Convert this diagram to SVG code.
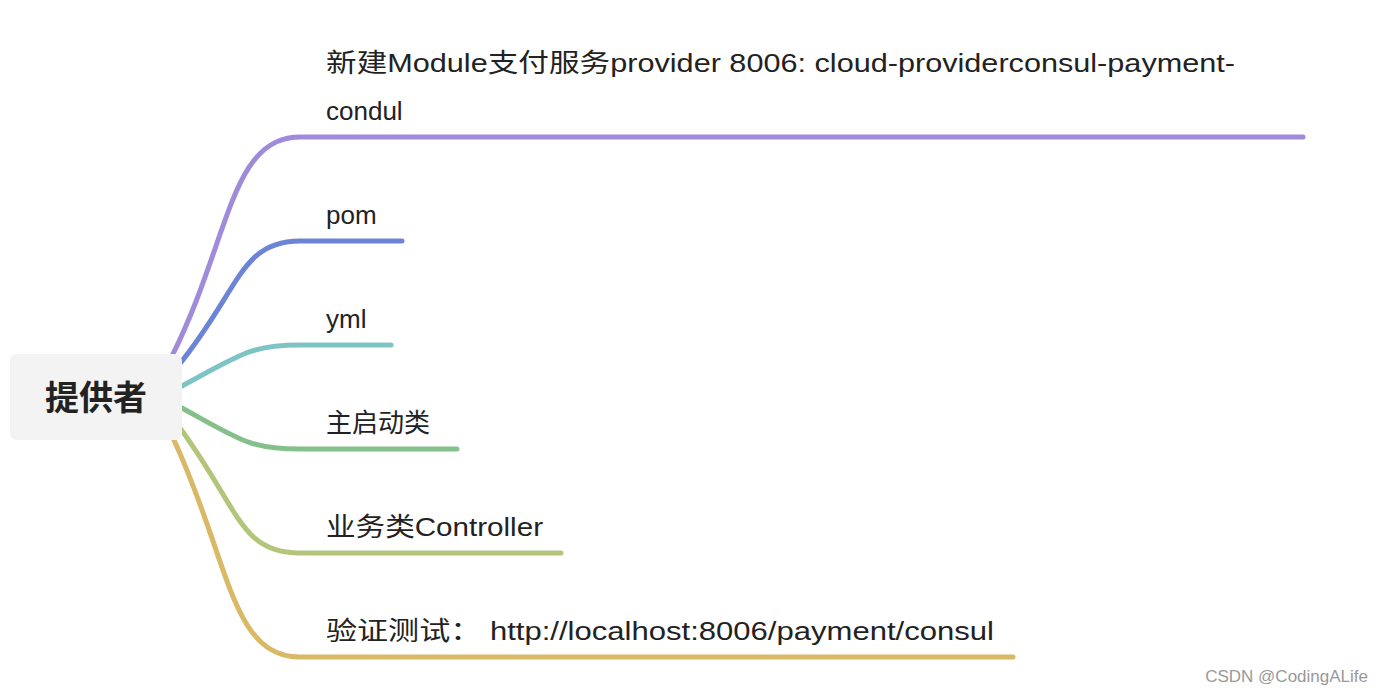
<svg xmlns="http://www.w3.org/2000/svg" width="1384" height="696" viewBox="0 0 1384 696">
<style>
.t{font-family:"Liberation Sans","Noto Sans CJK SC",sans-serif;font-size:26px;fill:#222}
.c{fill:none;stroke-width:5;stroke-linecap:round}
</style>
<rect width="1384" height="696" fill="#fff"/>
<g id="connectors">
<path class="c" stroke="#a08bdb" d="M172,356 C230,240 230,137 300,137 L1303,137"/>
<path class="c" stroke="#6c84d6" d="M178,366 C240,290 240,241 300,241 L402,241"/>
<path class="c" stroke="#7fc4c4" d="M182,386 C240,355 250,345 300,345 L391,345"/>
<path class="c" stroke="#85c08a" d="M182,408 C240,440 250,449 300,449 L457,449"/>
<path class="c" stroke="#b3c57a" d="M180,428 C240,510 240,553 300,553 L561,553"/>
<path class="c" stroke="#d9b866" d="M173,438 C230,560 230,657 300,657 L1013,657"/>
</g>
<g id="root">
<rect x="10" y="354" width="172" height="86" rx="7" fill="#f3f3f3"/>
<text x="96" y="410" text-anchor="middle" style="font-family:'Noto Sans CJK SC',sans-serif;font-size:34px;font-weight:bold;fill:#222">提供者</text>
</g>
<g id="n1"><text class="t" x="326" y="72" textLength="909" lengthAdjust="spacingAndGlyphs">新建Module支付服务provider 8006: cloud-providerconsul-payment-</text><text class="t" x="326" y="120">condul</text></g>
<g id="n2"><text class="t" x="326" y="224">pom</text></g>
<g id="n3"><text class="t" x="326" y="328">yml</text></g>
<g id="n4"><text class="t" x="326" y="432">主启动类</text></g>
<g id="n5"><text class="t" x="326" y="536" textLength="217" lengthAdjust="spacingAndGlyphs">业务类Controller</text></g>
<g id="n6"><text class="t" x="326" y="640" textLength="668" lengthAdjust="spacingAndGlyphs">验证测试：  http://localhost:8006/payment/consul</text></g>
<text x="1368" y="682" text-anchor="end" style="font-family:'Liberation Sans',sans-serif;font-size:17px;fill:#999">CSDN @CodingALife</text>
</svg>
